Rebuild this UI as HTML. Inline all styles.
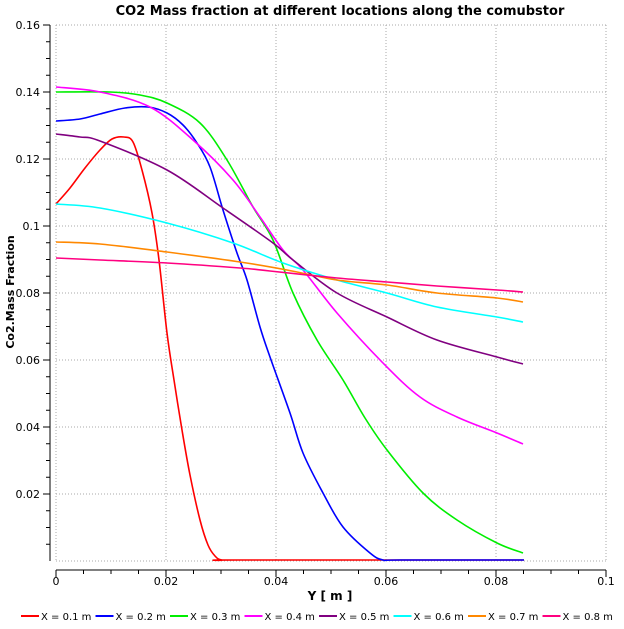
<!DOCTYPE html>
<html><head><meta charset="utf-8"><style>
body{margin:0;background:#fff;font-family:"Liberation Sans","DejaVu Sans",sans-serif}
svg text{font-family:"DejaVu Sans","Liberation Sans",sans-serif}
</style></head><body>
<svg id="s" width="624" height="624" viewBox="0 0 624 624" xmlns="http://www.w3.org/2000/svg">
<text x="340" y="15" text-anchor="middle" font-size="13" font-weight="bold">CO2 Mass fraction at different locations along the comubstor</text>
<g id="grid" stroke="#aaa" stroke-width="1" stroke-dasharray="1,2"></g>
<g id="axes" stroke="#000" stroke-width="1"></g>
<g id="labels" font-size="11" fill="#000"></g>
<text x="330" y="600" text-anchor="middle" font-size="12" font-weight="bold">Y [ m ]</text>
<text transform="translate(14,292) rotate(-90)" text-anchor="middle" font-size="11" font-weight="bold">Co2.Mass Fraction</text>
<g id="curves" fill="none" stroke-width="1.6"></g>
<g id="legend" font-size="10"></g>
</svg>
<script>
var NS="http://www.w3.org/2000/svg";
function el(p,t,a,txt){var e=document.createElementNS(NS,t);for(var k in a)e.setAttribute(k,a[k]);if(txt!=null)e.textContent=txt;document.getElementById(p).appendChild(e);}
function X(v){return 56+v*5500;}function Y(v){return 561-v*3350;}
for(var i=0;i<=5;i++){var x=X(i*0.02);el('grid','line',{x1:x,x2:x,y1:25,y2:561});
 el('axes','line',{x1:x,x2:x,y1:570,y2:577});el('labels','text',{x:x,y:585,'text-anchor':'middle'},i==0?'0':(i==5?'0.1':(i*0.02).toFixed(2)));}
for(var i=0;i<20;i++){var x=X(i*0.005);if(i%4)el('axes','line',{x1:x,x2:x,y1:570,y2:574});}
el('axes','line',{x1:56,x2:606,y1:570,y2:570});
for(var i=0;i<=8;i++){var y=Y(i*0.02);el('grid','line',{x1:56,x2:606,y1:y,y2:y});
 if(i>0){el('axes','line',{x1:43,x2:50,y1:y,y2:y});var t=(i*0.02).toFixed(2);if(t=='0.10')t='0.1';el('labels','text',{x:40,y:y+4,'text-anchor':'end'},t);}}
for(var i=1;i<32;i++){if(i%4){var y=Y(i*0.005);el('axes','line',{x1:46,x2:50,y1:y,y2:y});}}
el('axes','line',{x1:50,x2:50,y1:25,y2:561});
function cr(p){var d='M'+p[0][0]+','+p[0][1];for(var i=0;i<p.length-1;i++){var a=p[i-1]||p[i],b=p[i],c=p[i+1],e=p[i+2]||c;
d+=' C'+(b[0]+(c[0]-a[0])/6)+','+(b[1]+(c[1]-a[1])/6)+' '+(c[0]-(e[0]-b[0])/6)+','+(c[1]-(e[1]-b[1])/6)+' '+c[0]+','+c[1];}return d;}
var S=[
['#ff0000','X = 0.1 m',[[56,204],[70,188],[85,168],[100,150],[112,139],[124,137],[133,142],[142,170],[152,213],[159,260],[167,333],[174,380],[182,430],[190,475],[200,520],[208,545],[215,556],[222,560],[240,560],[524,560]]],
['#0000ff','X = 0.2 m',[[56,121],[80,119],[100,114],[125,108],[148,107],[167,113],[183,125],[197,143],[210,167],[223,210],[237,253],[247,280],[260,327],[270,357],[290,413],[303,453],[323,493],[343,527],[370,553],[383,560],[400,560],[524,560]]],
['#00ee00','X = 0.3 m',[[56,92],[110,92],[140,95],[167,103],[200,123],[227,160],[253,207],[273,240],[293,293],[317,340],[343,380],[365,418],[387,450],[423,493],[457,520],[497,543],[523,553]]],
['#ff00ff','X = 0.4 m',[[56,87],[100,92],[150,107],[193,140],[233,180],[260,217],[283,250],[303,270],[337,313],[383,363],[420,397],[457,417],[497,433],[523,444]]],
['#800080','X = 0.5 m',[[56,134],[80,137],[100,141],[167,170],[223,208],[273,243],[293,260],[337,293],[387,317],[437,340],[497,357],[523,364]]],
['#00ffff','X = 0.6 m',[[56,204],[100,208],[167,223],[233,243],[283,263],[337,280],[387,293],[437,307],[497,317],[523,322]]],
['#ff8800','X = 0.7 m',[[56,242],[100,244],[167,252],[240,262],[287,270],[337,280],[387,285],[437,293],[497,298],[523,302]]],
['#ff0080','X = 0.8 m',[[56,258],[100,260],[167,263],[240,268],[270,271],[337,278],[387,282],[437,286],[497,290],[523,292]]]];
S.forEach(function(s,i){el('curves','path',{d:cr(s[2]),stroke:s[0]});
 var lx=21+i*74.5;el('legend','line',{x1:lx,x2:lx+18,y1:616,y2:616,stroke:s[0],'stroke-width':2});
 el('legend','text',{x:lx+20,y:620},s[1]);});
</script>
</body></html>
